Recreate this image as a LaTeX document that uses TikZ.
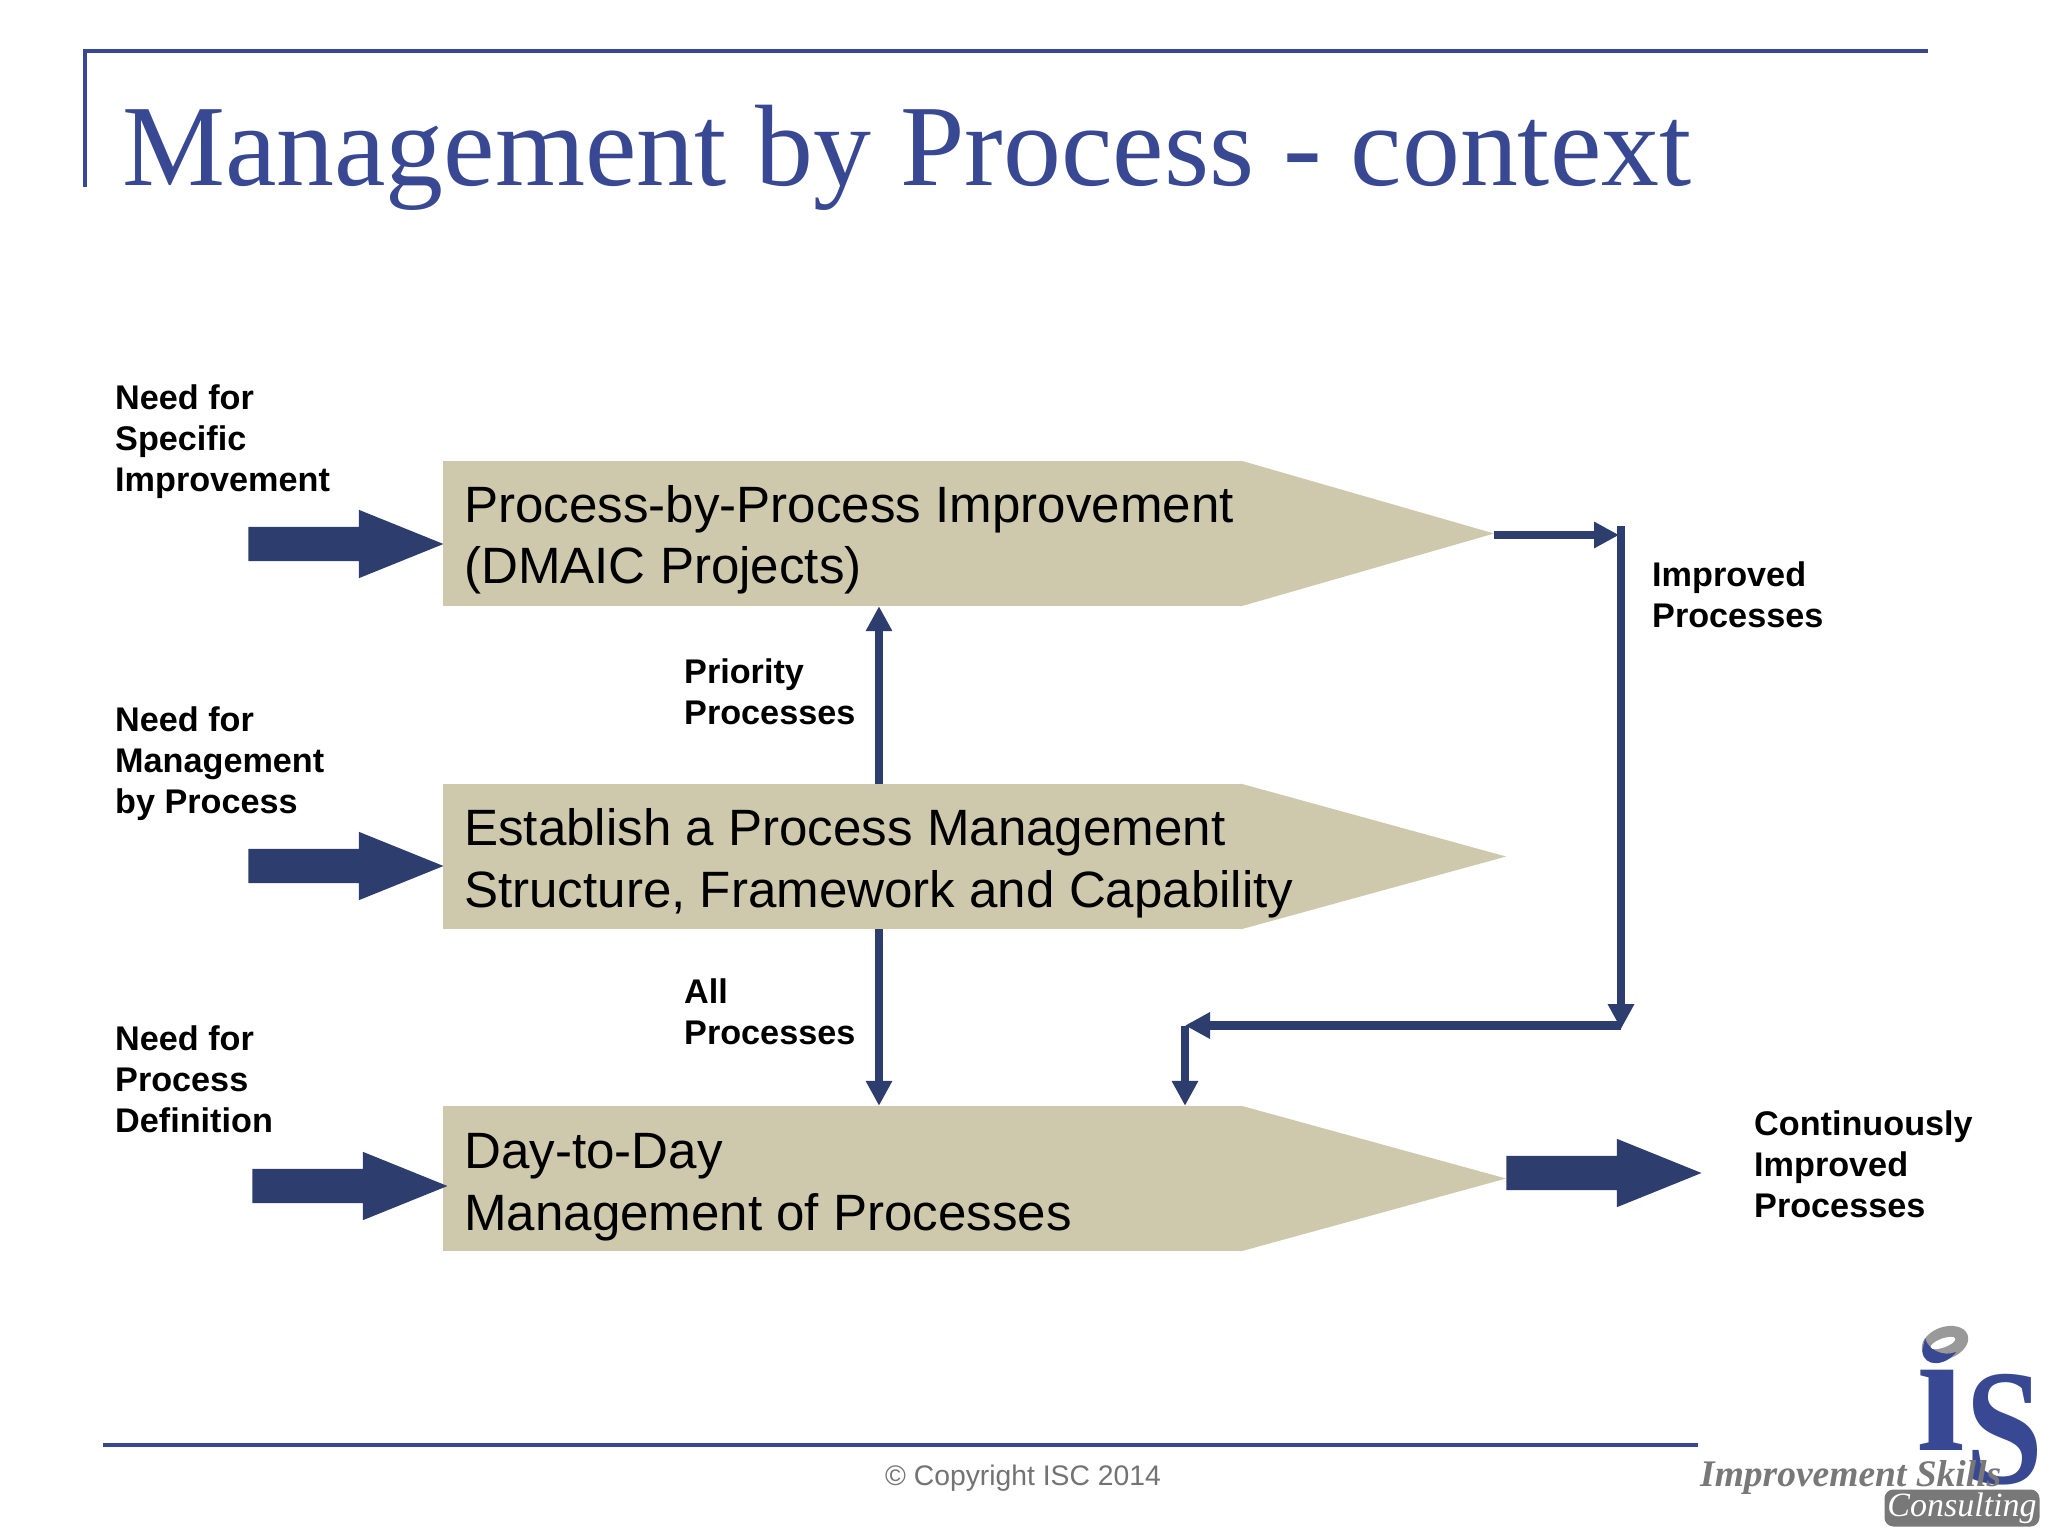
\documentclass[tikz,border=0pt]{standalone}
\usepackage{fontspec}
\setmainfont{Liberation Sans}
\newfontfamily\serifface{Liberation Serif}
\usetikzlibrary{arrows.meta}
\usetikzlibrary{shapes.arrows}
\usetikzlibrary{shapes.geometric}
\definecolor{navy}{RGB}{45,62,110}
\definecolor{ruleblue}{RGB}{56,72,146}
\definecolor{khaki}{RGB}{206,200,172}
\definecolor{logogray}{RGB}{120,120,120}
\tikzset{
  boxbody/.style={fill=khaki,anchor=west,inner sep=0pt,minimum width=798pt,minimum height=145pt},
  boxtext/.style={anchor=west,inner sep=0pt,align=left,font=\fontsize{51.1}{61.5}\selectfont},
  sidetext/.style={anchor=north west,inner sep=0pt,align=left,font=\fontsize{34.2}{41}\selectfont\bfseries},
  bigarrow/.style={shape=single arrow,fill=navy,anchor=tip,inner xsep=0pt,inner ysep=17pt,minimum height=195pt,single arrow head extend=17pt,single arrow tip angle=44,single arrow head indent=0pt},
  link/.style={draw=navy,line width=8.5pt},
  linktip/.style={link,-{Triangle[length=25pt,width=25pt]}},
  rulebar/.style={draw=ruleblue,line width=4.5pt}
}
\begin{document}
\begin{tikzpicture}[x=1pt,y=-1pt]
  \useasboundingbox[fill=white] (0,0) rectangle (2048,1536);

  % title and frame
  \coordinate (framelow) at (85,187);
  \coordinate (framecorner) at (85,51);
  \coordinate (frameend) at (1928,51);
  \draw[rulebar,line cap=butt] (framelow)--(framecorner)--(frameend);
  \node[anchor=base west,inner sep=0pt,text=ruleblue,font=\fontsize{115.8}{116}\selectfont\serifface] (title) at (122,185) {Management by Process - context};

  % the three bodies
  \node[boxbody] (boxA) at (443,533.5) {};
  \node[boxbody] (boxB) at (443,856.5) {};
  \node[boxbody] (boxC) at (443,1178.5) {};
  \coordinate (tipA) at (1494,533.5);
  \coordinate (tipB) at (1506,856.5);
  \coordinate (tipC) at (1506,1178.5);
  \fill[khaki] ([xshift=-2pt]boxA.north east)--(boxA.north east)--(tipA)--(boxA.south east)--([xshift=-2pt]boxA.south east)--cycle;
  \fill[khaki] ([xshift=-2pt]boxB.north east)--(boxB.north east)--(tipB)--(boxB.south east)--([xshift=-2pt]boxB.south east)--cycle;
  \fill[khaki] ([xshift=-2pt]boxC.north east)--(boxC.north east)--(tipC)--(boxC.south east)--([xshift=-2pt]boxC.south east)--cycle;
  \node[boxtext] (textA) at (464,540) {Process-by-Process Improvement\\(DMAIC Projects)};
  \node[boxtext] (textB) at (464,863.5) {Establish a Process Management\\Structure, Framework and Capability};
  \node[boxtext] (textC) at (464,1187) {Day-to-Day\\Management of Processes};

  % wide arrows
  \node[bigarrow] (inA) at (444,544) {};
  \node[bigarrow] (inB) at (444,866) {};
  \node[bigarrow] (inC) at (448,1186) {};
  \node[bigarrow] (outC) at (1702,1173) {};

  % connectors
  \coordinate (riser) at (879,857);
  \coordinate (sideTop) at (1621,526);
  \coordinate (sideEnd) at (1621,1029);
  \coordinate (lineA) at (1619,535);
  \coordinate (corner) at (1185,1025.5);
  \coordinate (crossEnd) at (1621,1025.5);
  \draw[linktip] (boxB.north -| riser)--(boxA.south -| riser);
  \draw[linktip] (boxB.south -| riser)--(boxC.north -| riser);
  \draw[linktip] (tipA |- lineA)--(lineA);
  \draw[linktip] (sideTop)--(sideEnd);
  \draw[linktip] (crossEnd)--(corner);
  \draw[linktip] (corner)--(boxC.north -| corner);

  % side labels
  \node[sidetext] (needA) at (115,385) {Need for\\Specific\\Improvement};
  \node[sidetext] (needB) at (115,707) {Need for\\Management\\by Process};
  \node[sidetext] (needC) at (115,1026) {Need for\\Process\\Definition};
  \node[sidetext] (priority) at (684,659) {Priority\\Processes};
  \node[sidetext] (allproc) at (684,979) {All\\Processes};
  \node[sidetext] (improved) at (1652,562) {Improved\\Processes};
  \node[sidetext] (contin) at (1754,1111) {Continuously\\Improved\\Processes};

  % footer
  \coordinate (footL) at (103,1445);
  \coordinate (footR) at (1698,1445);
  \draw[rulebar] (footL)--(footR);
  \node[inner sep=0pt,text=black!55,font=\fontsize{28.3}{28}\selectfont] (copyr) at (1023,1478) {© Copyright ISC 2014};

  % logo
  \node[shape=ellipse,fill=black!40,minimum width=48pt,minimum height=32pt,rotate=20,inner sep=0pt] (swirl) at (1945,1343) {};
  \fill[ruleblue] (swirl.west) .. controls (1924,1368) and (1946,1366) .. (1956,1352) .. controls (1943,1357) and (1928,1350) .. (swirl.north west)--cycle;
  \node[shape=ellipse,fill=white,minimum width=26pt,minimum height=9pt,rotate=20,inner sep=0pt] (swirlgap) at (1943,1343) {};
  \node[anchor=base,inner sep=0pt,text=ruleblue,font=\fontsize{175}{175}\selectfont\serifface\bfseries] (logoI) at (1941,1450) {\i};
  \node[anchor=base,inner sep=0pt,xscale=.85,transform shape,text=ruleblue,font=\fontsize{165}{165}\selectfont\serifface\bfseries] (logoS) at (2004,1483) {S};
  \node[anchor=base west,inner sep=0pt,text=logogray,font=\fontsize{37.5}{38}\selectfont\serifface\itshape\bfseries] (logoname) at (1700,1486) {Improvement Skills};
  \node[fill=logogray,rounded corners=9pt,minimum width=155pt,minimum height=37pt,inner sep=0pt,text=white,font=\fontsize{34}{34}\selectfont\serifface\itshape] (logobox) at (1962,1508) {Consulting};
\end{tikzpicture}
\end{document}
